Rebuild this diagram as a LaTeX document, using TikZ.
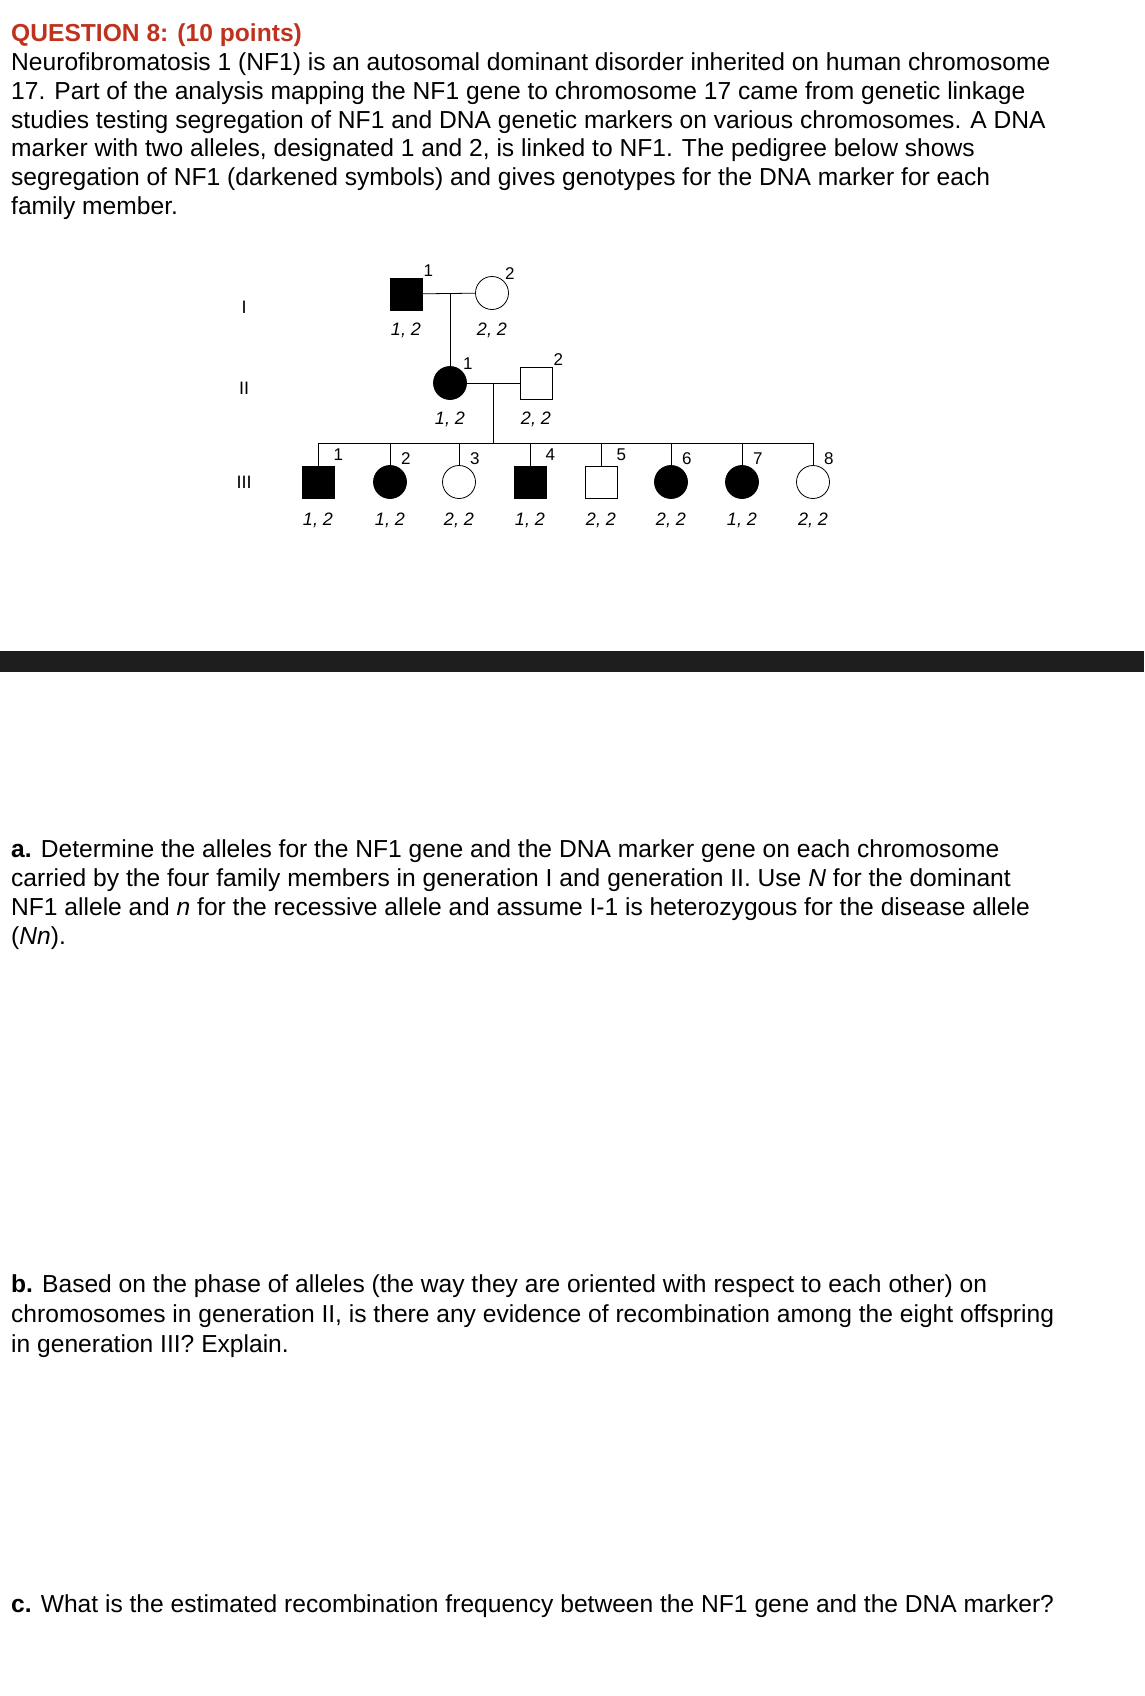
\documentclass[tikz,border=0pt]{standalone}
\usepackage{fontspec}
\setmainfont{Liberation Sans}
\definecolor{qred}{RGB}{190,50,30}
\definecolor{bar}{RGB}{30,30,30}
\begin{document}
\begin{tikzpicture}[x=1pt,y=-1pt,
  txt/.style={anchor=mid west,inner sep=0pt,font=\fontsize{24.6}{29}\selectfont},
  sq/.style={draw,line width=0.8pt,minimum size=32pt,inner sep=0pt},
  ci/.style={draw,circle,line width=0.8pt,minimum size=33pt,inner sep=0pt},
  aff/.style={fill=black},
  ln/.style={line width=0.8pt},
  num/.style={font=\fontsize{17}{17}\selectfont,inner sep=1pt},
  gt/.style={font=\fontsize{18}{18}\selectfont\itshape,inner sep=0pt},
  gen/.style={font=\fontsize{18}{18}\selectfont,inner sep=0pt}]
\useasboundingbox (0,0) rectangle (1144,1696);
\node[txt,text=qred,font=\fontsize{24.6}{29}\selectfont\bfseries] (t0) at (11,39) {QUESTION 8: (10 points)};
\node[txt] (t1) at (11,68) {Neurofibromatosis 1 (NF1) is an autosomal dominant disorder inherited on human chromosome};
\node[txt] (t2) at (11,97) {17. Part of the analysis mapping the NF1 gene to chromosome 17 came from genetic linkage};
\node[txt] (t3) at (11,126) {studies testing segregation of NF1 and DNA genetic markers on various chromosomes. A DNA};
\node[txt] (t4) at (11,154) {marker with two alleles, designated 1 and 2, is linked to NF1. The pedigree below shows};
\node[txt] (t5) at (11,183) {segregation of NF1 (darkened symbols) and gives genotypes for the DNA marker for each};
\node[txt] (t6) at (11,212) {family member.};
% pedigree
\node[gen] (gI) at (244,307) {I};
\node[gen] (gII) at (244,388) {II};
\node[gen] (gIII) at (244,482) {III};
\node[sq,aff] (a1) at (406,294) {};
\node[ci] (a2) at (492,293) {};
\node[ci,aff] (b1) at (450,383) {};
\node[sq] (b2) at (536,383) {};
\coordinate (m1) at (450,293);
\coordinate (m2) at (493,383);
\draw[ln] (a1) -- (a2);
\draw[ln] (m1) -- (b1);
\draw[ln] (b1) -- (b2);
\coordinate (sib) at (493,443);
\draw[ln] (m2) -- (sib);
\node[num,anchor=south west] at (a1.north east) {1};
\node[num,anchor=south west] at (a2.north east) {2};
\node[num,anchor=south west] at (b1.north east) {1};
\node[num,anchor=south west] at (b2.north east) {2};
\node[gt] at (406,330) {1, 2};
\node[gt] at (492,330) {2, 2};
\node[gt] at (450,419) {1, 2};
\node[gt] at (536,419) {2, 2};
\foreach \i/\x/\s/\f/\g in {1/318/sq/aff/{1, 2},2/390/ci/aff/{1, 2},3/459/ci//{2, 2},4/530/sq/aff/{1, 2},5/601/sq//{2, 2},6/671/ci/aff/{2, 2},7/742/ci/aff/{1, 2},8/813/ci//{2, 2}}{
  \node[\s,\f] (c\i) at (\x,482) {};
  \coordinate (k\i) at (\x,443);
  \draw[ln] (k\i) -- (c\i);
  \node[num,anchor=south west] at ([xshift=-2pt,yshift=4pt]c\i.north east) {\i};
  \node[gt] at (\x,520) {\g};
}
\draw[ln] (k1) -- (k8);
% bar
\fill[bar] (0,651) rectangle (1144,672);
\node[txt] (a0) at (11,855) {\textbf{a.} Determine the alleles for the NF1 gene and the DNA marker gene on each chromosome};
\node[txt] (a1t) at (11,884) {carried by the four family members in generation I and generation II. Use \textit{N} for the dominant};
\node[txt] (a2t) at (11,913) {NF1 allele and \textit{n} for the recessive allele and assume I-1 is heterozygous for the disease allele};
\node[txt] (a3t) at (11,942) {(\textit{Nn}).};
\node[txt] (b0) at (11,1290) {\textbf{b.} Based on the phase of alleles (the way they are oriented with respect to each other) on};
\node[txt] (b1t) at (11,1320) {chromosomes in generation II, is there any evidence of recombination among the eight offspring};
\node[txt] (b2t) at (11,1350) {in generation III? Explain.};
\node[txt] (c0) at (11,1610) {\textbf{c.} What is the estimated recombination frequency between the NF1 gene and the DNA marker?};
\end{tikzpicture}
\end{document}
